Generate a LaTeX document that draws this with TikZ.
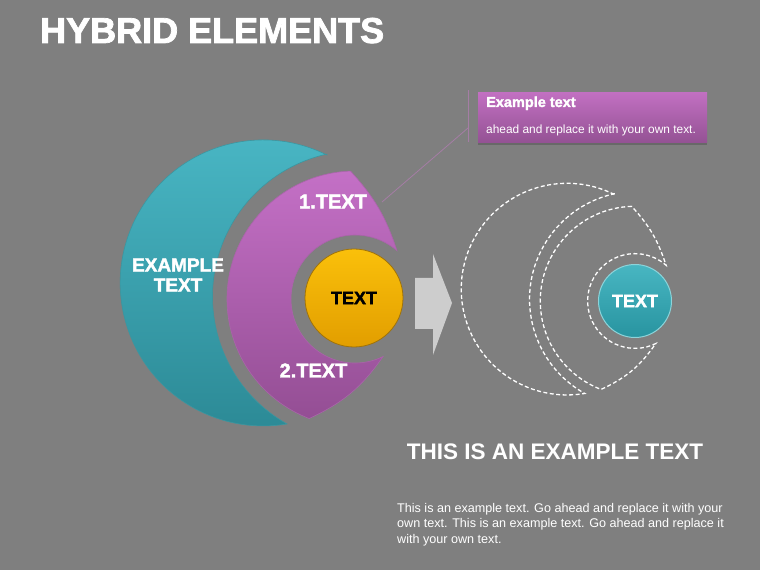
\documentclass[tikz,border=0pt]{standalone}
\usepackage{fontspec}
\setmainfont{Liberation Sans}
\newfontfamily\heavyfont{Liberation Sans}[BoldFeatures={FakeBold=2}]
\definecolor{bgray}{RGB}{127,127,127}
\definecolor{tealA}{RGB}{74,184,198}
\definecolor{tealB}{RGB}{44,138,150}
\definecolor{tealE}{RGB}{60,150,160}
\definecolor{purA}{RGB}{196,112,198}
\definecolor{purB}{RGB}{148,78,148}
\definecolor{purE}{RGB}{170,100,170}
\definecolor{yelA}{RGB}{250,192,10}
\definecolor{yelB}{RGB}{226,158,0}
\definecolor{yelE}{RGB}{160,115,10}
\definecolor{arrowg}{RGB}{205,205,205}
\definecolor{boxA}{RGB}{194,112,194}
\definecolor{boxB}{RGB}{148,82,148}
\definecolor{linec}{RGB}{165,125,165}
\definecolor{tcA}{RGB}{72,182,194}
\definecolor{tcB}{RGB}{40,148,160}
\definecolor{tcE}{RGB}{140,212,218}
\newcommand\purpleshape{(92:128) arc[start angle=92,end angle=249,radius=128] to[bend right=15] (296:64) arc[start angle=296,end angle=49,radius=64] to[bend right=12] (92:128) -- cycle}
\newcommand\tealshape{(-28,144) arc[start angle=63.5,end angle=279.6,radius=143] arc[start angle=240.7,end angle=102.5,radius=146] -- cycle}
\begin{document}
\begin{tikzpicture}[x=1pt,y=1pt,
  lbl/.style={text=white,font=\heavyfont\bfseries\fontsize{20}{20}\selectfont,inner sep=0pt},
  dashline/.style={draw=white,line width=1.3pt,dash pattern=on 4pt off 2.5pt},
  para/.style={text=white,font=\fontsize{12.6}{15}\selectfont,inner sep=0pt,anchor=base west},
  conn/.style={draw=linec,line width=0.8pt}]
\fill[bgray] (0,0) rectangle (760,570);
\useasboundingbox (0,0) rectangle (760,570);
% title
\node[anchor=base west,inner sep=0pt,text=white,font=\heavyfont\bfseries\fontsize{36}{40}\selectfont] (title) at (40,527) {HYBRID ELEMENTS};
% left hybrid shape
\begin{scope}[shift={(355,271)}]
  \shade[top color=tealA,bottom color=tealB] \tealshape;
  \draw[tealE,line width=0.6pt] \tealshape;
  \shade[top color=purA,bottom color=purB] \purpleshape;
  \draw[purE,line width=0.6pt] \purpleshape;
\end{scope}
\node[circle,minimum size=98,inner sep=0pt,top color=yelA,bottom color=yelB,draw=yelE,line width=0.8pt,text=black,font=\heavyfont\bfseries\fontsize{18}{20}\selectfont] (yc) at (354,272) {TEXT};
\node[lbl,align=center,font=\heavyfont\bfseries\fontsize{19}{20}\selectfont] (ex) at (178,295) {EXAMPLE\\TEXT};
\node[lbl] (t1) at (333,368.5) {1.TEXT};
\node[lbl] (t2) at (313.5,199.5) {2.TEXT};
% arrow
\fill[arrowg] (415,292) -- (433,292) -- (433,316) -- (452,267) -- (433,215) -- (433,241) -- (415,241) -- cycle;
% right dashed shape
\begin{scope}[shift={(635,269)},scale=0.74]
  \draw[dashline] \tealshape;
  \draw[dashline] \purpleshape;
\end{scope}
\node[circle,minimum size=73,inner sep=0pt,top color=tcA,bottom color=tcB,draw=tcE,line width=1pt,text=white,font=\heavyfont\bfseries\fontsize{18}{20}\selectfont] (rc) at (635,269) {TEXT};
% callout
\fill[black,opacity=0.18] (478,425) rectangle (707,475);
\node[rectangle,anchor=north west,minimum width=229,minimum height=50,inner sep=0pt,top color=boxA,bottom color=boxB] (cbox) at (478,478) {};
\node[anchor=base west,inner sep=0pt,text=white,font=\heavyfont\bfseries\fontsize{14.5}{15}\selectfont] (ct) at (486,463) {Example text};
\node[anchor=base west,inner sep=0pt,text=white,font=\fontsize{11.9}{13}\selectfont] (cs) at (486,436) {ahead and replace it with your own text.};
\coordinate (lt) at (468,480);
\coordinate (lb) at (468,428);
\coordinate (lk) at (468,442);
\coordinate (le) at (382,368);
\draw[conn] (lt) -- (lb);
\draw[conn] (lk) -- (le);
% bottom texts
\node[text=white,inner sep=0pt,font=\bfseries\fontsize{22.5}{25}\selectfont] (head) at (555,118) {THIS IS AN EXAMPLE TEXT};
\node[para] (p1) at (397,57) {This is an example text. Go ahead and replace it with your};
\node[para] (p2) at (397,42) {own text. This is an example text. Go ahead and replace it};
\node[para] (p3) at (397,27) {with your own text.};
\end{tikzpicture}
\end{document}
